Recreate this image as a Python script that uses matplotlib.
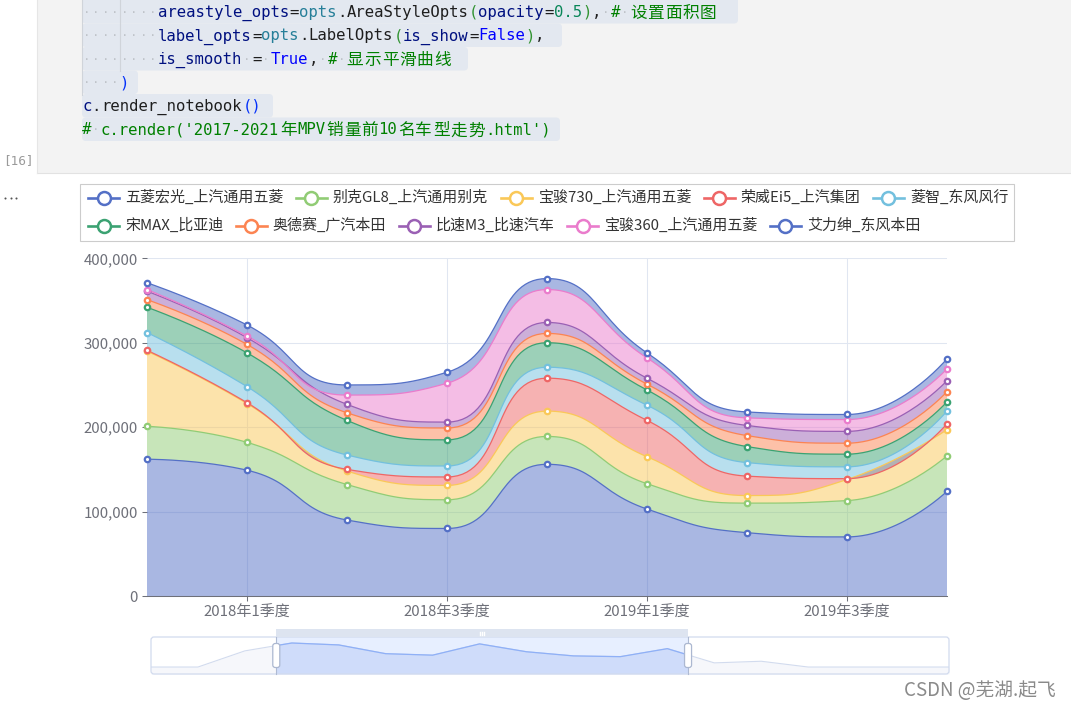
import numpy as np
import matplotlib
matplotlib.use("Agg")
import matplotlib.pyplot as plt
from matplotlib.patches import Rectangle, FancyBboxPatch
from matplotlib.lines import Line2D

plt.rcParams['font.family'] = ['Noto Sans CJK SC', 'DejaVu Sans']

# ---------------- data ----------------
quarters_all = ['2017年1季度', '2017年2季度', '2017年3季度', '2017年4季度',
                '2018年1季度', '2018年2季度', '2018年3季度', '2018年4季度',
                '2019年1季度', '2019年2季度', '2019年3季度', '2019年4季度',
                '2020年1季度', '2020年2季度', '2020年3季度', '2020年4季度',
                '2021年1季度', '2021年2季度']
zoom_start_pct = 15.7
zoom_end_pct = 67.3
quarters = quarters_all[3:12]

series_names = ['五菱宏光_上汽通用五菱', '别克GL8_上汽通用别克', '宝骏730_上汽通用五菱',
                '荣威Ei5_上汽集团', '菱智_东风风行', '宋MAX_比亚迪', '奥德赛_广汽本田',
                '比速M3_比速汽车', '宝骏360_上汽通用五菱', '艾力绅_东风本田']
wuling = [162000, 149000, 90000, 80000, 156000, 103000, 75000, 70000, 124000]
buick_gl8 = [39000, 33000, 42000, 34000, 33000, 30000, 35000, 43000, 42000]
baojun730 = [89000, 46000, 16000, 17000, 30000, 32000, 9000, 25000, 31000]
roewe_ei5 = [1000, 1000, 2000, 10000, 39000, 43000, 23000, 1000, 7000]
lingzhi = [21000, 19000, 17000, 13000, 13000, 18000, 16000, 14000, 15000]
song_max = [30000, 40000, 41000, 31000, 29000, 18000, 19000, 15000, 11000]
odyssey = [9000, 10000, 9000, 14000, 11000, 7000, 13000, 13000, 12000]
bisu_m3 = [10000, 8000, 10000, 7000, 13000, 7000, 12000, 14000, 13000]
baojun360 = [2000, 2000, 11000, 46000, 39000, 24000, 9000, 14000, 14000]
elysion = [8000, 13000, 12000, 13000, 13000, 6000, 7000, 6000, 12000]
series_values = [wuling, buick_gl8, baojun730, roewe_ei5, lingzhi, song_max,
                 odyssey, bisu_m3, baojun360, elysion]
# data shadow of the slider (first series, whole period)
wuling_all = [0, 0, 109000, 162000, 149000, 90000, 80000, 156000, 103000,
              75000, 70000, 124000, 28000, 39000, 0, 0, 0, 0]

colors = ['#5470c6', '#91cc75', '#fac858', '#ee6666', '#73c0de',
          '#3ba272', '#fc8452', '#9a60b4', '#ea7ccc', '#5470c6']

# ---------------- figure ----------------
W, H = 1071, 709
fig = plt.figure(figsize=(W / 100, H / 100), dpi=100)
fig.patch.set_facecolor('white')


def px_axes(x0, y0, x1, y1, z):
    a = fig.add_axes([x0 / W, 1 - y1 / H, (x1 - x0) / W, (y1 - y0) / H])
    a.set_zorder(z)
    return a


bg = px_axes(0, 0, W, H, 0)
bg.set_xlim(0, W)
bg.set_ylim(H, 0)
bg.axis('off')

# ---- notebook code cell ----
bg.add_patch(Rectangle((37, -5), W - 37 + 5, 178, fc='#f3f3f3', ec='none'))
bg.plot([37, W], [173, 173], color='#e2e2e2', lw=0.8)
bg.plot([37, 37], [0, 173], color='#e6e6e6', lw=0.8)

hl = '#e3e8f0'
line_h = 23.5
hl_ends = [738, 562, 468, 138, 273, 560]
for i, xe in enumerate(hl_ends):
    bg.add_patch(FancyBboxPatch((82, i * line_h - (6 if i == 0 else 0)), xe - 82,
                                line_h + (6 if i == 0 else 0),
                                boxstyle='round,pad=0,rounding_size=4',
                                fc=hl, ec='none'))
bg.plot([82, 82], [0, 95], color='#d0d4da', lw=0.8)
bg.plot([119.8, 119.8], [0, 71], color='#d0d4da', lw=0.8)

CW = 9.44
CJKW = 17.5
navy = '#001080'
teal = '#267f99'
blk = '#1e1e1e'
num = '#098658'
kw = '#0000ff'
com = '#008000'
gbr = '#319331'
bbr = '#0431fa'
WS = 'ws'

code_lines = [
    [('        ', WS), ('areastyle_opts', navy), ('=', blk), ('opts', teal), ('.', blk),
     ('AreaStyleOpts', blk), ('(', gbr), ('opacity', navy), ('=', blk), ('0.5', num),
     (')', gbr), (',', blk), (' ', WS), ('# 设置面积图', com)],
    [('        ', WS), ('label_opts', navy), ('=', blk), ('opts', teal), ('.', blk),
     ('LabelOpts', blk), ('(', gbr), ('is_show', navy), ('=', blk), ('False', kw),
     (')', gbr), (',', blk)],
    [('        ', WS), ('is_smooth', navy), (' ', WS), ('=', blk), (' ', WS), ('True', kw),
     (',', blk), (' ', WS), ('# 显示平滑曲线', com)],
    [('    ', WS), (')', bbr)],
    [('c', navy), ('.', blk), ('render_notebook', blk), ('()', bbr)],
    [("# c.render('2017-2021年MPV销量前10名车型走势.html')", com)],
]


def draw_code(yb, tokens):
    x = 82.0
    for text, col in tokens:
        run = ''
        for ch in text + '\0':
            ascii_ch = ch != '\0' and ord(ch) < 128 and ch != ' '
            if ascii_ch:
                run += ch
                continue
            if run:
                bg.text(x, yb, run, color=(blk if col == WS else col),
                        family='DejaVu Sans Mono', fontsize=11.29, va='baseline', ha='left')
                x += CW * len(run)
                run = ''
            if ch == '\0':
                break
            if ch == ' ':
                bg.text(x + CW / 2, yb - 4.5, '·', color='#bfc3c9',
                        family='DejaVu Sans Mono', fontsize=9, va='center', ha='center')
                x += CW
            else:
                bg.text(x + CJKW / 2, yb + 1, ch, color=col, family='Noto Sans CJK SC',
                        fontsize=12, va='baseline', ha='center')
                x += CJKW


for i, toks in enumerate(code_lines):
    draw_code(16.8 + i * line_h, toks)

bg.text(3, 161, '[16]', color='#9a9a9a', family='DejaVu Sans Mono', fontsize=9.2,
        va='center', ha='left')
bg.scatter([5, 10.5, 16], [198, 198, 198], s=2.2, color='#555555', lw=0)

# ---- legend ----
renderer = fig.canvas.get_renderer()
rows = [series_names[:5], series_names[5:]]
row_y = [197.5, 225.5]
max_right = 0
idx = 0
for r, names in enumerate(rows):
    x = 88
    for name in names:
        c = colors[idx]
        bg.add_line(Line2D([x, x + 31], [row_y[r], row_y[r]], color=c, lw=1.9))
        bg.add_line(Line2D([x + 15.5], [row_y[r]], marker='o', ms=9.3, mew=1.8,
                           mfc='white', mec=c, lw=0))
        t = bg.text(x + 37, row_y[r], name, color='#333333', fontsize=10.8,
                    va='center', ha='left')
        wpx = t.get_window_extent(renderer=renderer).width
        x = x + 37 + wpx + 12.5
        max_right = max(max_right, x - 12.5)
        idx += 1
bg.add_patch(Rectangle((80, 183.5), max_right + 6 - 80, 241 - 183.5, fc='none',
                       ec='#cccccc', lw=0.8))

# ---- main chart ----
ax = px_axes(147, 258.3, 947, 596, 2)
ax.set_facecolor('none')
n = len(quarters)
xs = np.arange(n)
ax.set_xlim(0, n - 1)
ax.set_ylim(0, 400000)

yt = np.arange(0, 400001, 100000)
for v in yt[1:]:
    ax.axhline(v, color='#e0e6f1', lw=0.75, zorder=0.5)
label_idx = list(range(1, n, 2))
for i in label_idx:
    ax.axvline(i, color='#e0e6f1', lw=0.75, zorder=0.5)


def echarts_smooth(xv, yv, smooth=0.5, steps=30):
    """ECharts 5 smoothing with extreme constraint, computed in pixel space."""
    P = ax.transData.transform(np.column_stack([xv, yv]).astype(float))
    out = [P[0]]
    cx0, cy0 = P[0]
    N = len(P)
    t = np.linspace(0, 1, steps + 1)[1:, None]
    for i in range(1, N):
        px, py = P[i - 1]
        x, y = P[i]
        if i + 1 < N:
            nx, ny = P[i + 1]
            vx, vy = nx - px, ny - py
            dx0, dy0 = x - px, y - py
            dx1, dy1 = nx - x, ny - y
            lp = np.hypot(dx0, dy0)
            ln = np.hypot(dx1, dy1)
            rr = ln / (ln + lp)
            c1x = x + vx * smooth * rr
            c1y = y + vy * smooth * rr
            c1x = min(c1x, max(nx, x)); c1y = min(c1y, max(ny, y))
            c1x = max(c1x, min(nx, x)); c1y = max(c1y, min(ny, y))
            vx, vy = c1x - x, c1y - y
            c0x = x - vx * lp / ln
            c0y = y - vy * lp / ln
            c0x = min(c0x, max(px, x)); c0y = min(c0y, max(py, y))
            c0x = max(c0x, min(px, x)); c0y = max(c0y, min(py, y))
            vx, vy = x - c0x, y - c0y
            c1x = x + vx * ln / lp
            c1y = y + vy * ln / lp
        else:
            c0x, c0y = x, y
            c1x, c1y = x, y
        p0 = np.array([px, py]); p1 = np.array([cx0, cy0])
        p2 = np.array([c0x, c0y]); p3 = np.array([x, y])
        seg = ((1 - t) ** 3) * p0 + 3 * ((1 - t) ** 2) * t * p1 + \
            3 * (1 - t) * (t ** 2) * p2 + (t ** 3) * p3
        out.extend(seg)
        cx0, cy0 = c1x, c1y
    return ax.transData.inverted().transform(np.array(out))


cum = np.cumsum(np.array(series_values, dtype=float), axis=0)
curves = [echarts_smooth(xs, cum[k]) for k in range(len(series_values))]
base = np.array([[0, 0], [n - 1, 0]], dtype=float)
for k in range(len(series_values)):
    top = curves[k]
    bot = curves[k - 1] if k > 0 else base
    poly = np.vstack([top, bot[::-1]])
    ax.fill(poly[:, 0], poly[:, 1], color=colors[k], alpha=0.5, lw=0, zorder=2)
for k in range(len(series_values)):
    ax.plot(curves[k][:, 0], curves[k][:, 1], color=colors[k], lw=0.9, zorder=3)
for k in range(len(series_values)):
    ax.plot(xs, cum[k], ls='none', marker='o', ms=3.9, mew=1.6, mfc='white',
            mec=colors[k], zorder=4, clip_on=False)

ax.set_yticks(yt)
ax.set_yticklabels([f'{int(v):,}' for v in yt])
ax.set_xticks(label_idx)
ax.set_xticklabels([quarters[i] for i in label_idx])
ax.tick_params(axis='both', colors='#6e7079', labelcolor='#6e7079', labelsize=10.8,
               length=3.6, width=0.75)
ax.tick_params(axis='y', pad=3.2)
ax.tick_params(axis='x', pad=3.5)
for s in ['top', 'right', 'left']:
    ax.spines[s].set_visible(False)
ax.spines['bottom'].set_color('#6e7079')
ax.spines['bottom'].set_linewidth(0.75)
ax.spines['bottom'].set_zorder(5)

# ---- data zoom slider ----
SX0, SX1, SY0, SY1 = 151, 949, 637, 674
sl = px_axes(SX0, SY0, SX1, SY1, 1)
sl.axis('off')
na = len(quarters_all)
sl.set_xlim(0, na - 1)
vmax = max(wuling_all)
ylo, yhi = -0.29 * vmax, 1.25 * vmax
sl.set_ylim(ylo, yhi)
xa = np.arange(na)
sl.fill_between(xa, wuling_all, ylo, color='#d2dbee', alpha=0.2, lw=0)
sl.plot(xa, wuling_all, color='#d2dbee', lw=0.8)

xs_sel = zoom_start_pct / 100 * (na - 1)
xe_sel = zoom_end_pct / 100 * (na - 1)
sl.add_patch(Rectangle((xs_sel, ylo), xe_sel - xs_sel, yhi - ylo,
                       fc=(135 / 255, 175 / 255, 1.0, 0.2), ec='none', zorder=2))
clip = Rectangle((xs_sel, ylo), xe_sel - xs_sel, yhi - ylo, transform=sl.transData)
f2 = sl.fill_between(xa, wuling_all, ylo, color='#8fb0f7', alpha=0.2, lw=0, zorder=3)
f2.set_clip_path(clip)
l2, = sl.plot(xa, wuling_all, color='#8fb0f7', lw=0.9, zorder=3)
l2.set_clip_path(clip)

hx0 = SX0 + zoom_start_pct / 100 * (SX1 - SX0)
hx1 = SX0 + zoom_end_pct / 100 * (SX1 - SX0)
bt = bg.transData
sl.add_patch(FancyBboxPatch((SX0, SY0), SX1 - SX0, SY1 - SY0,
                            boxstyle='round,pad=0,rounding_size=3', fc='none',
                            ec='#d2dbee', lw=0.9, transform=bt, clip_on=False, zorder=5))
sl.add_patch(Rectangle((hx0, 629), hx1 - hx0, 8, fc='#dde4f0', ec='none',
                       transform=bt, clip_on=False, zorder=5))
mid = (hx0 + hx1) / 2
for dx in (-2.2, 0, 2.2):
    sl.add_line(Line2D([mid + dx, mid + dx], [631.5, 634.5], color='white', lw=1.0,
                       transform=bt, clip_on=False, zorder=6))
for hx in (hx0, hx1):
    sl.add_line(Line2D([hx, hx], [SY0, SY1], color='#aebad3', lw=0.8,
                       transform=bt, clip_on=False, zorder=6))
    sl.add_patch(FancyBboxPatch((hx - 3.5, 643.5), 7, 24,
                                boxstyle='round,pad=0,rounding_size=2.5', fc='white',
                                ec='#acb8d1', lw=0.9, transform=bt, clip_on=False,
                                zorder=7))

# ---- watermark ----
bg.text(1056, 690, 'CSDN @芜湖.起飞', color='#8a8a8a', fontsize=13.5, ha='right',
        va='center')

fig.savefig('out.png', dpi=100)
